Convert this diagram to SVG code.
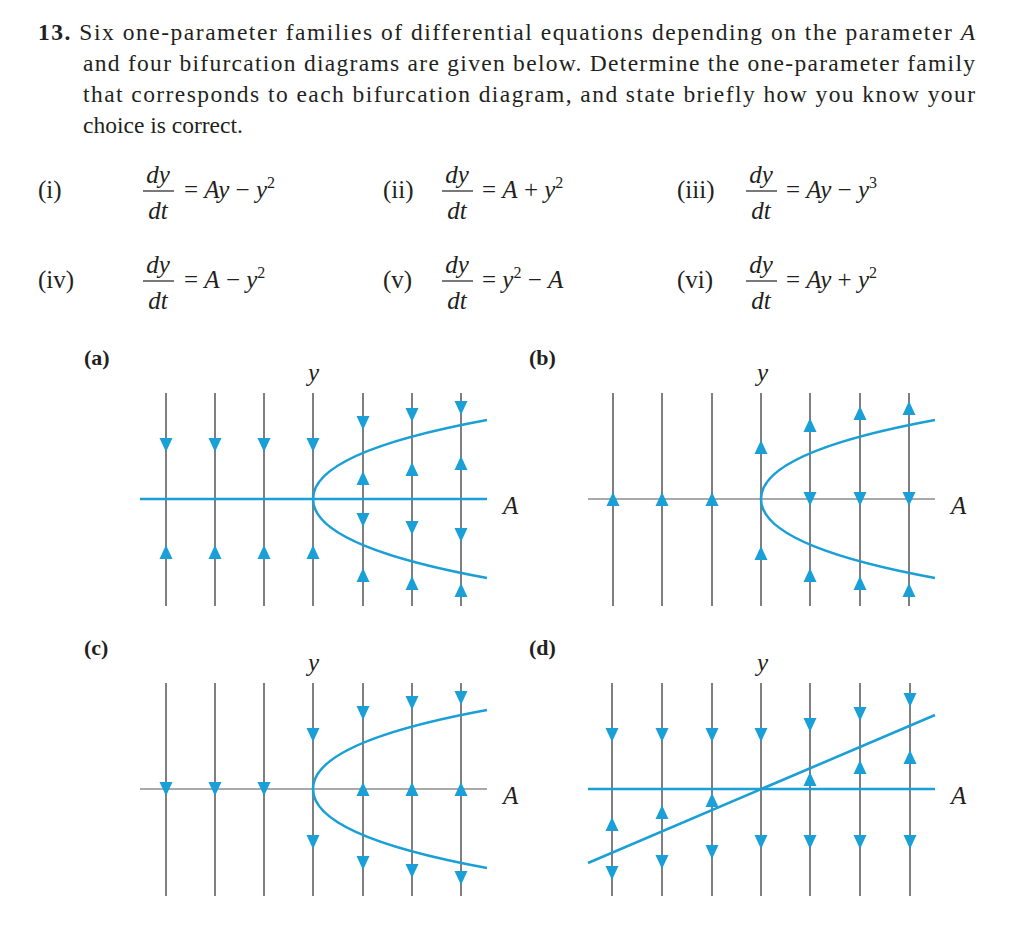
<svg xmlns="http://www.w3.org/2000/svg" xmlns:xlink="http://www.w3.org/1999/xlink" width="1024" height="942" viewBox="0 0 1024 942">
<defs>
<style>
text{font-family:"Liberation Serif","Times New Roman",serif;fill:#231f20}
.t{font-size:23.5px}
.it{font-style:italic}
.eq{font-size:25px}
.lb{font-size:22px;font-weight:bold}
.v{stroke:#555;stroke-width:1.5}
.ax{stroke:#555;stroke-width:1.2}
.bl{stroke:#1a9fd6;stroke-width:2.6;fill:none}
.ar{fill:#1a9fd6}
</style>
<path id="dn" class="ar" d="M-6.5,-7 L6.5,-7 L0,7 Z"/>
<path id="up" class="ar" d="M-6.5,7 L6.5,7 L0,-7 Z"/>
</defs>
<rect width="1024" height="942" fill="#fff"/>
<g id="question">
<text class="t" x="38" y="40" textLength="937" lengthAdjust="spacing"><tspan font-weight="bold">13.</tspan> Six one-parameter families of differential equations depending on the parameter <tspan class="it">A</tspan></text>
<text class="t" x="83" y="71" textLength="892" lengthAdjust="spacing">and four bifurcation diagrams are given below. Determine the one-parameter family</text>
<text class="t" x="83" y="102" textLength="892" lengthAdjust="spacing">that corresponds to each bifurcation diagram, and state briefly how you know your</text>
<text class="t" x="83" y="133">choice is correct.</text>
</g>
<g id="equations" class="eq">
<g id="eq-i"><text x="38" y="198">(i)</text><text class="it" x="158" y="183" text-anchor="middle">dy</text><line x1="143" y1="191" x2="174" y2="191" stroke="#231f20" stroke-width="1.2"/><text class="it" x="158" y="219" text-anchor="middle">dt</text><text x="184" y="198">= <tspan class="it">Ay</tspan> − <tspan class="it">y</tspan><tspan font-size="16" dy="-10">2</tspan></text></g>
<g id="eq-ii"><text x="383" y="198">(ii)</text><text class="it" x="457" y="183" text-anchor="middle">dy</text><line x1="442" y1="191" x2="473" y2="191" stroke="#231f20" stroke-width="1.2"/><text class="it" x="457" y="219" text-anchor="middle">dt</text><text x="482" y="198">= <tspan class="it">A</tspan> + <tspan class="it">y</tspan><tspan font-size="16" dy="-10">2</tspan></text></g>
<g id="eq-iii"><text x="677" y="198">(iii)</text><text class="it" x="761" y="183" text-anchor="middle">dy</text><line x1="746" y1="191" x2="777" y2="191" stroke="#231f20" stroke-width="1.2"/><text class="it" x="761" y="219" text-anchor="middle">dt</text><text x="786" y="198">= <tspan class="it">Ay</tspan> − <tspan class="it">y</tspan><tspan font-size="16" dy="-10">3</tspan></text></g>
<g id="eq-iv"><text x="38" y="288">(iv)</text><text class="it" x="158" y="273" text-anchor="middle">dy</text><line x1="143" y1="281" x2="174" y2="281" stroke="#231f20" stroke-width="1.2"/><text class="it" x="158" y="309" text-anchor="middle">dt</text><text x="184" y="288">= <tspan class="it">A</tspan> − <tspan class="it">y</tspan><tspan font-size="16" dy="-10">2</tspan></text></g>
<g id="eq-v"><text x="383" y="288">(v)</text><text class="it" x="457" y="273" text-anchor="middle">dy</text><line x1="442" y1="281" x2="473" y2="281" stroke="#231f20" stroke-width="1.2"/><text class="it" x="457" y="309" text-anchor="middle">dt</text><text x="482" y="288">= <tspan class="it">y</tspan><tspan font-size="16" dy="-10">2</tspan><tspan dy="10"> − </tspan><tspan class="it">A</tspan></text></g>
<g id="eq-vi"><text x="677" y="288">(vi)</text><text class="it" x="761" y="273" text-anchor="middle">dy</text><line x1="746" y1="281" x2="777" y2="281" stroke="#231f20" stroke-width="1.2"/><text class="it" x="761" y="309" text-anchor="middle">dt</text><text x="786" y="288">= <tspan class="it">Ay</tspan> + <tspan class="it">y</tspan><tspan font-size="16" dy="-10">2</tspan></text></g>
</g>

<g id="diagram-a">
<text class="lb" x="84" y="365">(a)</text>
<text class="eq it" x="308" y="381" font-size="23">y</text>
<text class="eq it" x="503" y="514" font-size="23">A</text>
<g class="v"><line x1="166" y1="393" x2="166" y2="606"/><line x1="215" y1="393" x2="215" y2="606"/><line x1="264" y1="393" x2="264" y2="606"/><line x1="313" y1="393" x2="313" y2="606"/><line x1="363" y1="393" x2="363" y2="606"/><line x1="412" y1="393" x2="412" y2="606"/><line x1="461" y1="393" x2="461" y2="606"/></g>
<line class="bl" x1="140" y1="499" x2="487" y2="499"/>
<path class="bl" d="M487,420 Q313,452 313,499 Q313,546 487,578"/>
<use xlink:href="#dn" x="166" y="445"/><use xlink:href="#dn" x="215" y="445"/><use xlink:href="#dn" x="264" y="445"/><use xlink:href="#dn" x="313" y="445"/>
<use xlink:href="#up" x="166" y="552"/><use xlink:href="#up" x="215" y="552"/><use xlink:href="#up" x="264" y="552"/><use xlink:href="#up" x="313" y="552"/>
<use xlink:href="#dn" x="363" y="423"/><use xlink:href="#up" x="363" y="478"/><use xlink:href="#dn" x="363" y="520"/><use xlink:href="#up" x="363" y="575"/>
<use xlink:href="#dn" x="412" y="415"/><use xlink:href="#up" x="412" y="469"/><use xlink:href="#dn" x="412" y="528"/><use xlink:href="#up" x="412" y="583"/>
<use xlink:href="#dn" x="461" y="408"/><use xlink:href="#up" x="461" y="463"/><use xlink:href="#dn" x="461" y="535"/><use xlink:href="#up" x="461" y="590"/>
</g>

<g id="diagram-b">
<text class="lb" x="529" y="365">(b)</text>
<text class="eq it" x="757" y="381" font-size="23">y</text>
<text class="eq it" x="951" y="514" font-size="23">A</text>
<g class="v"><line x1="613" y1="393" x2="613" y2="606"/><line x1="662" y1="393" x2="662" y2="606"/><line x1="712" y1="393" x2="712" y2="606"/><line x1="761" y1="393" x2="761" y2="606"/><line x1="810" y1="393" x2="810" y2="606"/><line x1="860" y1="393" x2="860" y2="606"/><line x1="909" y1="393" x2="909" y2="606"/></g>
<line class="ax" x1="588" y1="499" x2="935" y2="499"/>
<path class="bl" d="M935,420 Q761,452 761,499 Q761,546 935,578"/>
<use xlink:href="#up" x="613" y="499"/><use xlink:href="#up" x="662" y="499"/><use xlink:href="#up" x="712" y="499"/>
<use xlink:href="#up" x="761" y="447"/><use xlink:href="#up" x="761" y="553"/>
<use xlink:href="#up" x="810" y="425"/><use xlink:href="#dn" x="810" y="499"/><use xlink:href="#up" x="810" y="575"/>
<use xlink:href="#up" x="860" y="413"/><use xlink:href="#dn" x="860" y="499"/><use xlink:href="#up" x="860" y="583"/>
<use xlink:href="#up" x="909" y="408"/><use xlink:href="#dn" x="909" y="499"/><use xlink:href="#up" x="909" y="590"/>
</g>

<g id="diagram-c">
<text class="lb" x="84" y="655">(c)</text>
<text class="eq it" x="308" y="671" font-size="23">y</text>
<text class="eq it" x="503" y="804" font-size="23">A</text>
<g class="v"><line x1="166" y1="683" x2="166" y2="896"/><line x1="215" y1="683" x2="215" y2="896"/><line x1="264" y1="683" x2="264" y2="896"/><line x1="313" y1="683" x2="313" y2="896"/><line x1="363" y1="683" x2="363" y2="896"/><line x1="412" y1="683" x2="412" y2="896"/><line x1="461" y1="683" x2="461" y2="896"/></g>
<line class="ax" x1="140" y1="789" x2="487" y2="789"/>
<path class="bl" d="M487,710 Q313,742 313,789 Q313,836 487,868"/>
<use xlink:href="#dn" x="166" y="789"/><use xlink:href="#dn" x="215" y="789"/><use xlink:href="#dn" x="264" y="789"/>
<use xlink:href="#dn" x="313" y="735"/><use xlink:href="#dn" x="313" y="842"/>
<use xlink:href="#dn" x="363" y="713"/><use xlink:href="#up" x="363" y="789"/><use xlink:href="#dn" x="363" y="863"/>
<use xlink:href="#dn" x="412" y="703"/><use xlink:href="#up" x="412" y="789"/><use xlink:href="#dn" x="412" y="871"/>
<use xlink:href="#dn" x="461" y="698"/><use xlink:href="#up" x="461" y="789"/><use xlink:href="#dn" x="461" y="878"/>
</g>

<g id="diagram-d">
<text class="lb" x="529" y="655">(d)</text>
<text class="eq it" x="757" y="671" font-size="23">y</text>
<text class="eq it" x="951" y="804" font-size="23">A</text>
<g class="v"><line x1="612" y1="683" x2="612" y2="896"/><line x1="662" y1="683" x2="662" y2="896"/><line x1="712" y1="683" x2="712" y2="896"/><line x1="761" y1="683" x2="761" y2="896"/><line x1="810" y1="683" x2="810" y2="896"/><line x1="860" y1="683" x2="860" y2="896"/><line x1="910" y1="683" x2="910" y2="896"/></g>
<line class="bl" x1="588" y1="789" x2="935" y2="789"/>
<line class="bl" x1="588" y1="863" x2="935" y2="715"/>
<use xlink:href="#dn" x="612" y="735"/><use xlink:href="#up" x="612" y="824"/><use xlink:href="#dn" x="612" y="873"/>
<use xlink:href="#dn" x="662" y="735"/><use xlink:href="#up" x="662" y="812"/><use xlink:href="#dn" x="662" y="862"/>
<use xlink:href="#dn" x="712" y="735"/><use xlink:href="#up" x="712" y="800"/><use xlink:href="#dn" x="712" y="852"/>
<use xlink:href="#dn" x="761" y="735"/><use xlink:href="#dn" x="761" y="842"/>
<use xlink:href="#dn" x="810" y="725"/><use xlink:href="#up" x="810" y="779"/><use xlink:href="#dn" x="810" y="842"/>
<use xlink:href="#dn" x="860" y="714"/><use xlink:href="#up" x="860" y="767"/><use xlink:href="#dn" x="860" y="842"/>
<use xlink:href="#dn" x="910" y="700"/><use xlink:href="#up" x="910" y="757"/><use xlink:href="#dn" x="910" y="842"/>
</g>
</svg>
